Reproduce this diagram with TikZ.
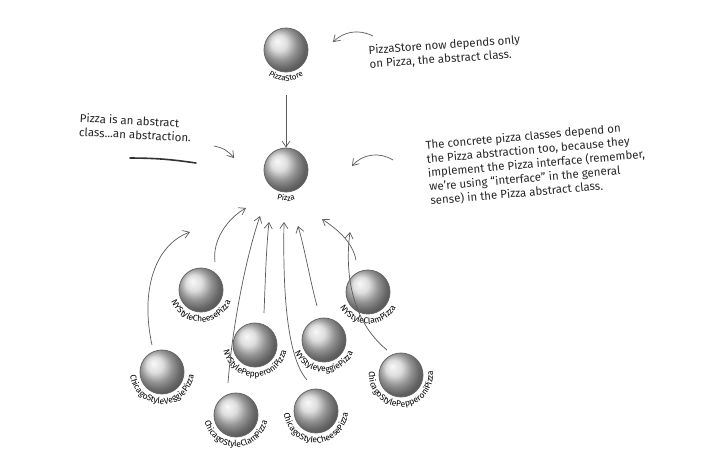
\documentclass[tikz,border=0pt]{standalone}
\usepackage{fontspec}
\setmainfont{Fira Sans}
\usetikzlibrary{arrows.meta,decorations.text}
\tikzset{
  ball/.style={circle,minimum size=44pt,inner sep=0pt,draw=black!60,line width=0.8pt,ball color=gray!35,shading=ball},
  dep/.style={draw=black!65,line width=0.7pt,-{Straight Barb[length=6pt,width=8pt]}},
  note/.style={align=left,font=\fontsize{11.5}{14}\selectfont,text=black!85,inner sep=0pt,anchor=north west}
}
\newcommand{\balllabel}[3]{% name, text, radius
  \path[decorate,decoration={text along path,text={#2},text align=center}]
     (#1.center) ++(-110:#3) arc (-110:-430:#3);}
\begin{document}
\begin{tikzpicture}[x=1pt,y=-1pt]
\useasboundingbox (0,0) rectangle (715,475);
\node[ball] (store) at (286,50) {};
\node[ball] (pizza) at (286,170) {};
\node[ball] (nych) at (201,290) {};
\node[ball] (nycl) at (368,292) {};
\node[ball] (nype) at (255,345) {};
\node[ball] (nyve) at (324,340) {};
\node[ball] (chve) at (162,372) {};
\node[ball] (chcl) at (236,415) {};
\node[ball] (chch) at (316,411) {};
\node[ball] (chpe) at (401,375) {};
\path[decorate,decoration={text along path,text={|\fontsize{8}{8}\selectfont|PizzaStore},text align=center}]
  (store.center) ++(-200:31) arc (-200:-340:31);
\path[decorate,decoration={text along path,text={|\fontsize{8}{8}\selectfont|Pizza},text align=center}]
  (pizza.center) ++(-235:31) arc (-235:-305:31);
\balllabel{nych}{|\fontsize{8.5}{8.5}\selectfont|NYStyleCheesePizza}{32}
\balllabel{nycl}{|\fontsize{8.5}{8.5}\selectfont|NYStyleClamPizza}{32}
\balllabel{nype}{|\fontsize{8.5}{8.5}\selectfont|NYStylePepperoniPizza}{32}
\balllabel{nyve}{|\fontsize{8.5}{8.5}\selectfont|NYStyleVeggiePizza}{32}
\balllabel{chve}{|\fontsize{8.5}{8.5}\selectfont|ChicagoStyleVeggiePizza}{32}
\balllabel{chcl}{|\fontsize{8.5}{8.5}\selectfont|ChicagoStyleClamPizza}{32}
\balllabel{chch}{|\fontsize{8.5}{8.5}\selectfont|ChicagoStyleCheesePizza}{32}
\balllabel{chpe}{|\fontsize{8.5}{8.5}\selectfont|ChicagoStylePepperoniPizza}{32}
% texts
\node[note,rotate=4] (t1) at (368,45) {PizzaStore now depends only\\on Pizza, the abstract class.};
\node[note,rotate=-3] (t2) at (80,113) {Pizza is an abstract\\class...an abstraction.};
\node[note,rotate=5] (t3) at (425,140) {The concrete pizza classes depend on\\the Pizza abstraction too, because they\\implement the Pizza interface (remember,\\we're using “interface” in the general\\sense) in the Pizza abstract class.};
\coordinate (u1) at (130,158); \coordinate (u2) at (196,163);
\draw[black!80,line width=1.6pt,line cap=round] (u1) to[bend left=4] (u2);
% annotation arrows
\coordinate (a1) at (373,36); \coordinate (a1e) at (333,42);
\draw[dep] (a1) to[bend right=35] (a1e);
\coordinate (a2) at (214,146); \coordinate (a2e) at (234,158);
\draw[dep] (a2) to[bend left=20] (a2e);
\coordinate (a3) at (393,160); \coordinate (a3e) at (352,166);
\draw[dep] (a3) to[bend right=40] (a3e);
\coordinate (s0) at (286,95);
\draw[dep] (s0) -- (pizza.north);
% dependency arrows
\coordinate (p1) at (190,232); \coordinate (p2) at (246,208);
\coordinate (p3) at (260,216); \coordinate (p4) at (269,222);
\coordinate (p5) at (284,222); \coordinate (p6) at (298,226);
\coordinate (p7) at (322,219); \coordinate (p8) at (350,232);
\coordinate (q1) at (152,345); \coordinate (q2) at (215,262);
\coordinate (q3) at (228,383); \coordinate (q4) at (264,313);
\coordinate (q5) at (307,380); \coordinate (q6) at (317,306);
\coordinate (q7) at (356,260); \coordinate (q8) at (387,350);
\draw[dep] (q1) .. controls (140,290) and (155,245) .. (p1);
\draw[dep] (q2) .. controls (212,240) and (228,218) .. (p2);
\draw[dep] (q3) .. controls (232,330) and (245,260) .. (p3);
\draw[dep] (q4) .. controls (265,290) and (266,250) .. (p4);
\draw[dep] (q5) .. controls (285,355) and (283,280) .. (p5);
\draw[dep] (q6) .. controls (310,280) and (305,250) .. (p6);
\draw[dep] (q7) .. controls (352,240) and (335,228) .. (p7);
\draw[dep] (q8) .. controls (350,320) and (345,270) .. (p8);
\end{tikzpicture}
\end{document}
